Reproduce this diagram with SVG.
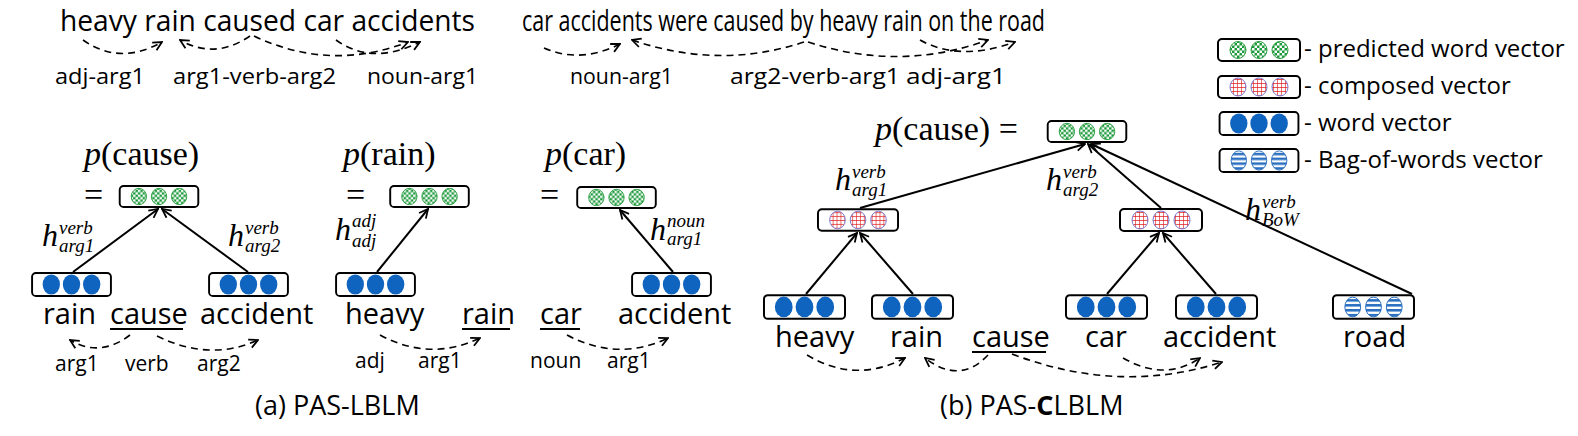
<svg xmlns="http://www.w3.org/2000/svg" width="1578" height="436" viewBox="0 0 1578 436">
<style>
text{font-family:"Open Sans","Liberation Sans",sans-serif;fill:#000}
.s1{font-size:30px}
.lab{font-size:21px}
.w{font-size:29px}
.cap{font-size:27px}
.m{font-family:"Liberation Serif",serif;font-size:34px}
.mi{font-family:"Liberation Serif",serif;font-style:italic}
.h{font-size:32px}
.sc{font-size:19px}
.leg{font-size:24px}
.dash{fill:none;stroke:#000;stroke-width:1.6;stroke-dasharray:7 5;marker-end:url(#ah)}
.ln{fill:none;stroke:#000;stroke-width:2;marker-end:url(#ah)}
.ul{stroke:#000;stroke-width:2}
</style>
<defs>
<marker id="ah" viewBox="0 0 10 10" refX="9" refY="5" markerWidth="11" markerHeight="11" markerUnits="userSpaceOnUse" orient="auto">
<polyline points="1,1 9,5 1,9" fill="none" stroke="#000" stroke-width="1.6"/>
</marker>
<pattern id="chk" width="5" height="5" patternUnits="userSpaceOnUse">
<rect width="5" height="5" fill="#1d9a3c"/><rect width="2.5" height="2.5" fill="#fff"/><rect x="2.5" y="2.5" width="2.5" height="2.5" fill="#fff"/>
</pattern>
<pattern id="grid" width="4" height="4" patternUnits="userSpaceOnUse">
<rect width="4" height="4" fill="#fff"/><path d="M0 0H4M0 0V4" stroke="#e02020" stroke-width="1.3"/>
</pattern>
<pattern id="str" width="6" height="5" patternUnits="userSpaceOnUse">
<rect width="6" height="5" fill="#fff"/><rect width="6" height="2.6" fill="#2a6fc0"/>
</pattern>
<symbol id="vp" viewBox="0 0 84 24" overflow="visible"><rect x="1" y="1" width="82" height="22" rx="4" fill="#fff" stroke="#000" stroke-width="2"/><ellipse cx="21" cy="12" rx="8" ry="8.5" fill="url(#chk)" stroke="#2aa040"/><ellipse cx="42" cy="12" rx="8" ry="8.5" fill="url(#chk)" stroke="#2aa040"/><ellipse cx="63" cy="12" rx="8" ry="8.5" fill="url(#chk)" stroke="#2aa040"/></symbol>
<symbol id="vc" viewBox="0 0 84 24" overflow="visible"><rect x="1" y="1" width="82" height="22" rx="4" fill="#fff" stroke="#000" stroke-width="2"/><ellipse cx="21" cy="12" rx="8" ry="9" fill="url(#grid)" stroke="#7a7ad0"/><ellipse cx="42" cy="12" rx="8" ry="9" fill="url(#grid)" stroke="#7a7ad0"/><ellipse cx="63" cy="12" rx="8" ry="9" fill="url(#grid)" stroke="#7a7ad0"/></symbol>
<symbol id="vw" viewBox="0 0 84 26" overflow="visible"><rect x="1" y="1" width="82" height="24" rx="4" fill="#fff" stroke="#000" stroke-width="2"/><ellipse cx="21" cy="13" rx="9" ry="10.5" fill="#0f64c0"/><ellipse cx="42" cy="13" rx="9" ry="10.5" fill="#0f64c0"/><ellipse cx="63" cy="13" rx="9" ry="10.5" fill="#0f64c0"/></symbol>
<symbol id="vb" viewBox="0 0 84 26" overflow="visible"><rect x="1" y="1" width="82" height="24" rx="4" fill="#fff" stroke="#000" stroke-width="2"/><ellipse cx="21" cy="13" rx="8" ry="10" fill="url(#str)" stroke="#2a6fc0"/><ellipse cx="42" cy="13" rx="8" ry="10" fill="url(#str)" stroke="#2a6fc0"/><ellipse cx="63" cy="13" rx="8" ry="10" fill="url(#str)" stroke="#2a6fc0"/></symbol>
</defs>

<!-- top sentences -->
<g id="sent1">
<text class="s1" x="60" y="31" textLength="415" lengthAdjust="spacingAndGlyphs">heavy rain caused car accidents</text>
<text class="lab" x="55" y="84" textLength="90" lengthAdjust="spacingAndGlyphs">adj-arg1</text>
<text class="lab" x="173" y="84" textLength="163" lengthAdjust="spacingAndGlyphs">arg1-verb-arg2</text>
<text class="lab" x="367" y="84" textLength="111" lengthAdjust="spacingAndGlyphs">noun-arg1</text>
</g>
<g id="sent2">
<text class="s1" x="522" y="31" textLength="523" lengthAdjust="spacingAndGlyphs">car accidents were caused by heavy rain on the road</text>
<text class="lab" x="570" y="84" textLength="103" lengthAdjust="spacingAndGlyphs">noun-arg1</text>
<text class="lab" x="730" y="84" textLength="170" lengthAdjust="spacingAndGlyphs">arg2-verb-arg1</text>
<text class="lab" x="906" y="84" textLength="100" lengthAdjust="spacingAndGlyphs">adj-arg1</text>
</g>

<!-- legend -->
<g id="legend">
<use href="#vp" x="1217" y="38" width="84" height="24"/>
<text class="leg" x="1304" y="57">- predicted word vector</text>
<use href="#vc" x="1217" y="75" width="84" height="24"/>
<text class="leg" x="1304" y="94">- composed vector</text>
<use href="#vw" x="1217" y="111" width="84" height="25"/>
<text class="leg" x="1304" y="131">- word vector</text>
<use href="#vb" x="1217" y="148" width="84" height="25"/>
<text class="leg" x="1304" y="168">- Bag-of-words vector</text>
</g>

<!-- (a) nodes -->
<g id="a-pcause">
<text class="m" x="84" y="165"><tspan class="mi">p</tspan>(cause)</text>
<text class="m" x="84" y="206">=</text>
<use href="#vp" x="117" y="185" width="84" height="23"/>
</g>
<g id="a-rain"><use href="#vw" x="30" y="272" width="83" height="25"/><text class="w" x="43" y="324">rain</text></g>
<g id="a-cause"><text class="w" x="110" y="324">cause</text><line class="ul" x1="110" y1="329" x2="183" y2="329"/></g>
<g id="a-accident"><use href="#vw" x="207" y="272" width="83" height="25"/><text class="w" x="200" y="324">accident</text></g>
<g id="a-prain">
<text class="m" x="343" y="165"><tspan class="mi">p</tspan>(rain)</text>
<text class="m" x="346" y="206">=</text>
<use href="#vp" x="387" y="185" width="85" height="23"/>
</g>
<g id="a-heavy"><use href="#vw" x="333" y="272" width="85" height="25"/><text class="w" x="345" y="324">heavy</text></g>
<g id="a-rain2"><text class="w" x="462" y="324">rain</text><line class="ul" x1="462" y1="329" x2="510" y2="329"/></g>
<g id="a-pcar">
<text class="m" x="545" y="165"><tspan class="mi">p</tspan>(car)</text>
<text class="m" x="540" y="206">=</text>
<use href="#vp" x="575" y="186" width="83" height="23"/>
</g>
<g id="a-car"><text class="w" x="540" y="324">car</text><line class="ul" x1="540" y1="329" x2="580" y2="329"/></g>
<g id="a-accident2"><use href="#vw" x="630" y="272" width="83" height="25"/><text class="w" x="618" y="324">accident</text></g>
<text class="cap" x="255" y="415">(a) PAS-LBLM</text>

<!-- (b) nodes -->
<g id="b-pcause">
<text class="m" x="875" y="140"><tspan class="mi">p</tspan>(cause) =</text>
<use href="#vp" x="1045" y="120" width="84" height="23"/>
</g>
<g id="b-comp1"><use href="#vc" x="817" y="208" width="82" height="24"/></g>
<g id="b-comp2"><use href="#vc" x="1119" y="208" width="84" height="24"/></g>
<g id="b-heavy"><use href="#vw" x="763" y="294" width="83" height="26"/><text class="w" x="775" y="347">heavy</text></g>
<g id="b-rain"><use href="#vw" x="871" y="294" width="83" height="26"/><text class="w" x="890" y="347">rain</text></g>
<g id="b-cause"><text class="w" x="972" y="347">cause</text><line class="ul" x1="972" y1="352" x2="1046" y2="352"/></g>
<g id="b-car"><use href="#vw" x="1065" y="294" width="83" height="26"/><text class="w" x="1085" y="347">car</text></g>
<g id="b-accident"><use href="#vw" x="1175" y="294" width="83" height="26"/><text class="w" x="1163" y="347">accident</text></g>
<g id="b-road"><use href="#vb" x="1332" y="294" width="83" height="26"/><text class="w" x="1343" y="347">road</text></g>
<text class="cap" x="940" y="415">(b) PAS-<tspan font-weight="bold">C</tspan>LBLM</text>

<!-- edge labels -->
<g id="labels">
<text class="mi h" x="42" y="246">h</text><text class="mi sc" x="59" y="234">verb</text><text class="mi sc" x="59" y="252">arg1</text>
<text class="mi h" x="228" y="246">h</text><text class="mi sc" x="245" y="234">verb</text><text class="mi sc" x="245" y="252">arg2</text>
<text class="mi h" x="335" y="240">h</text><text class="mi sc" x="352" y="227">adj</text><text class="mi sc" x="352" y="247">adj</text>
<text class="mi h" x="650" y="240">h</text><text class="mi sc" x="667" y="227">noun</text><text class="mi sc" x="667" y="245">arg1</text>
<text class="mi h" x="835" y="190">h</text><text class="mi sc" x="852" y="178">verb</text><text class="mi sc" x="852" y="196">arg1</text>
<text class="mi h" x="1046" y="190">h</text><text class="mi sc" x="1063" y="178">verb</text><text class="mi sc" x="1063" y="196">arg2</text>
<text class="mi h" x="1245" y="220">h</text><text class="mi sc" x="1262" y="208">verb</text><text class="mi sc" x="1262" y="226">BoW</text>
<text class="lab" x="55" y="371">arg1</text><text class="lab" x="125" y="371">verb</text><text class="lab" x="197" y="371">arg2</text>
<text class="lab" x="355" y="368">adj</text><text class="lab" x="418" y="368">arg1</text>
<text class="lab" x="530" y="368">noun</text><text class="lab" x="607" y="368">arg1</text>
</g>

<!-- connectors -->
<g id="connectors">
<path class="dash" d="M83 40 Q120 66 162 42"/>
<path class="dash" d="M250 36 Q215 60 180 40"/>
<path class="dash" d="M254 36 Q330 72 408 42"/>
<path class="dash" d="M336 40 Q372 66 420 42"/>
<path class="dash" d="M544 48 Q580 64 620 44"/>
<path class="dash" d="M804 42 Q720 70 632 40"/>
<path class="dash" d="M808 42 Q900 72 988 40"/>
<path class="dash" d="M920 40 Q960 62 1015 42"/>
<line class="ln" x1="73" y1="272" x2="158" y2="209"/>
<line class="ln" x1="248" y1="272" x2="162" y2="209"/>
<line class="ln" x1="377" y1="272" x2="428" y2="209"/>
<line class="ln" x1="673" y1="272" x2="620" y2="210"/>
<path class="dash" d="M130 335 Q100 358 70 340"/>
<path class="dash" d="M157 336 Q210 362 258 340"/>
<path class="dash" d="M380 335 Q430 362 480 338"/>
<path class="dash" d="M567 335 Q618 362 668 338"/>
<line class="ln" x1="860" y1="208" x2="1085" y2="144"/>
<line class="ln" x1="1161" y1="208" x2="1088" y2="144"/>
<line class="ln" x1="1412" y1="294" x2="1091" y2="144"/>
<line class="ln" x1="806" y1="294" x2="857" y2="233"/>
<line class="ln" x1="913" y1="294" x2="860" y2="233"/>
<line class="ln" x1="1107" y1="294" x2="1159" y2="233"/>
<line class="ln" x1="1216" y1="294" x2="1163" y2="233"/>
<path class="dash" d="M807 355 Q855 384 905 358"/>
<path class="dash" d="M988 355 Q960 385 925 358"/>
<path class="dash" d="M1012 354 Q1120 395 1222 362"/>
<path class="dash" d="M1123 358 Q1165 382 1200 358"/>
</g>
</svg>
